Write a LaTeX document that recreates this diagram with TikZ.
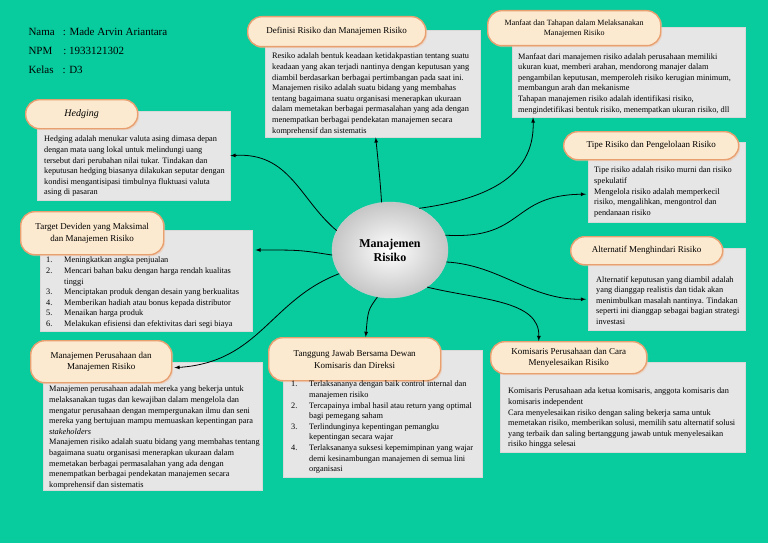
\documentclass[tikz,border=0pt]{standalone}
\usepackage{fontspec}
\setmainfont{Liberation Serif}
\usetikzlibrary{shapes.geometric,calc,shadows}
\definecolor{bg}{HTML}{08CC9E}
\definecolor{cream}{HTML}{FCEAD0}
\definecolor{tan}{HTML}{E8A070}
\definecolor{gbox}{HTML}{E6E6E6}
\hyphenpenalty=10000
\newcommand{\itm}[2]{\hangindent=18pt\hangafter=1\noindent\makebox[18pt][l]{#1}#2\par}
\tikzset{
 graybox/.style={draw=gray!30,fill=gbox,anchor=north west,inner sep=0pt},
 pill/.style={draw=tan,line width=1.4pt,fill=cream,rounded corners=14pt,anchor=north west,inner sep=0pt,align=center,font=\fontsize{9}{11.5}\selectfont,drop shadow={shadow xshift=1.5pt,shadow yshift=-1.5pt,fill=tan!60}},
 body/.style={anchor=north west,inner sep=0pt,align=flush left,font=\fontsize{8.3}{10.6}\selectfont},
 arr/.style={-latex,thick,black},
 info/.style={anchor=west,font=\fontsize{11}{13}\selectfont}
}
\begin{document}
\begin{tikzpicture}[x=1pt,y=-1pt]
\fill[bg] (0,0) rectangle (768,543);
\useasboundingbox (0,0) rectangle (768,543);
% info
\node[info] (n1) at (25,32) {Nama\hspace{8pt}: Made Arvin Ariantara};
\node[info] (n2) at (25,51) {NPM\hspace{11pt}: 1933121302};
\node[info] (n3) at (25,70) {Kelas\hspace{9pt}: D3};
% Hedging
\node[graybox,minimum width=193,minimum height=89] (hb) at (37,111) {};
\node[pill,minimum width=112,minimum height=29,font=\fontsize{10}{12}\selectfont\itshape] (hp) at (25,99) {Hedging};
\node[body,text width=184] (ht) at (44,136) {Hedging adalah menukar valuta asing dimasa depan dengan mata uang lokal untuk melindungi uang tersebut dari perubahan nilai tukar. Tindakan dan keputusan hedging biasanya dilakukan seputar dengan kondisi mengantisipasi timbulnya fluktuasi valuta asing di pasaran};
% Definisi
\node[graybox,minimum width=215,minimum height=107] (db) at (265,30) {};
\node[pill,minimum width=178,minimum height=30] (dp) at (247,16) {Definisi Risiko dan Manajemen Risiko};
\node[body,text width=206] (dt) at (272,53) {Resiko adalah bentuk keadaan ketidakpastian tentang suatu keadaan yang akan terjadi nantinya dengan keputusan yang diambil berdasarkan berbagai pertimbangan pada saat ini. Manajemen risiko adalah suatu bidang yang membahas tentang bagaimana suatu organisasi menerapkan ukuraan dalam memetakan berbagai permasalahan yang ada dengan menempatkan berbagai pendekatan manajemen secara komprehensif dan sistematis};
% Manfaat
\node[graybox,minimum width=233,minimum height=90] (mb) at (512,27) {};
\node[pill,minimum width=173,minimum height=35,font=\fontsize{8}{10}\selectfont] (mp) at (487,10) {Manfaat dan Tahapan dalam Melaksanakan\\Manajemen Risiko};
\node[body,text width=226] (mt) at (518,53) {Manfaat dari manajemen risiko adalah perusahaan memiliki\\ukuran kuat, memberi arahan, mendorong manajer dalam\\pengambilan keputusan, memperoleh risiko kerugian minimum,\\membangun arah dan mekanisme\\Tahapan manajemen risiko adalah identifikasi risiko,\\mengindetifikasi bentuk risiko, menempatkan ukuran risiko, dll};
% Tipe
\node[graybox,minimum width=157,minimum height=80] (tb) at (588,142) {};
\node[pill,minimum width=175,minimum height=28] (tp) at (563,131) {Tipe Risiko dan Pengelolaan Risiko};
\node[body,text width=148] (tt) at (594,167) {Tipe risiko adalah risiko murni dan risiko spekulatif\\Mengelola risiko adalah memperkecil risiko, mengalihkan, mengontrol dan pendanaan risiko};
% Alternatif
\node[graybox,minimum width=157,minimum height=82] (ab) at (588,248) {};
\node[pill,minimum width=152,minimum height=28] (ap) at (570,236) {Alternatif Menghindari Risiko};
\node[body,text width=148] (at) at (596,276) {Alternatif keputusan yang diambil adalah yang dianggap realistis dan tidak akan menimbulkan masalah nantinya. Tindakan seperti ini dianggap sebagai bagian strategi investasi};
% Target
\node[graybox,minimum width=212,minimum height=101] (gb) at (40,230) {};
\node[pill,minimum width=143,minimum height=43] (gp) at (20,211) {Target Deviden yang Maksimal\\dan Manajemen Risiko};
\node[body,text width=205] (gt) at (46,257) {\itm{1.}{Meningkatkan angka penjualan}\itm{2.}{Mencari bahan baku dengan harga rendah kualitas\newline tinggi}\itm{3.}{Menciptakan produk dengan desain yang berkualitas}\itm{4.}{Memberikan hadiah atau bonus kepada distributor}\itm{5.}{Menaikan harga produk}\itm{6.}{Melakukan efisiensi dan efektivitas dari segi biaya}};
% Manajemen Perusahaan
\node[graybox,minimum width=219,minimum height=128] (pb) at (43,362) {};
\node[pill,minimum width=141,minimum height=42] (pp) at (30,340) {Manajemen Perusahaan dan\\Manajemen Risiko};
\node[body,text width=212] (pt) at (49,386) {Manajemen perusahaan adalah mereka yang bekerja untuk melaksanakan tugas dan kewajiban dalam mengelola dan mengatur perusahaan dengan mempergunakan ilmu dan seni mereka yang bertujuan mampu memuaskan kepentingan para \textit{stakeholders}\\Manajemen risiko adalah suatu bidang yang membahas tentang bagaimana suatu organisasi menerapkan ukuraan dalam memetakan berbagai permasalahan yang ada dengan menempatkan berbagai pendekatan manajemen secara komprehensif dan sistematis};
% Tanggung jawab
\node[graybox,minimum width=199,minimum height=127] (jb) at (283,350) {};
\node[pill,minimum width=172,minimum height=43] (jp) at (268,337) {Tanggung Jawab Bersama Dewan\\Komisaris dan Direksi};
\node[body,text width=190] (jt) at (291,381) {\itm{1.}{Terlaksananya dengan baik control internal dan manajemen risiko}\itm{2.}{Tercapainya imbal hasil atau return yang optimal bagi pemegang saham}\itm{3.}{Terlindunginya kepentingan pemangku kepentingan secara wajar}\itm{4.}{Terlaksananya suksesi kepemimpinan yang wajar demi kesinambungan manajemen di semua lini organisasi}};
% Komisaris
\node[graybox,minimum width=245,minimum height=90] (kb) at (500,362) {};
\node[pill,minimum width=156,minimum height=32] (kp) at (490,341) {Komisaris Perusahaan dan Cara\\Menyelesaikan Risiko};
\node[body,text width=235] (kt) at (508,388) {Komisaris Perusahaan ada ketua komisaris, anggota komisaris dan komisaris independent\\Cara menyelesaikan risiko dengan saling bekerja sama untuk memetakan risiko, memberikan solusi, memilih satu alternatif solusi yang terbaik dan saling bertanggung jawab untuk menyelesaikan risiko hingga selesai};
% center
\node[ellipse,minimum width=116,minimum height=96,draw=gray!40,shading=radial,inner color=white,outer color=gray!45,align=center,font=\bfseries\fontsize{12}{14}\selectfont] (c) at (390,250) {Manajemen\\Risiko};
% arrows
\draw[arr] (c.160) .. controls (300,200) and (290,152) .. (hb.east);
\draw[arr] (c.100) .. controls (380,180) .. ($(db.south)+(3,0)$);
\draw[arr] (c.55) .. controls (480,200) and (535,180) .. ($(mb.south west)+(21,0)$);
\draw[arr] (c.15) .. controls (525,240) and (510,195) .. ($(tb.west)+(-2,12)$);
\draw[arr] (c.-12) .. controls (500,265) and (530,300) .. ($(ab.west)+(-2,10)$);
\draw[arr] (c.185) .. controls (300,250) .. ($(gb.north east)+(3,20)$);
\draw[arr] (c.205) .. controls (270,300) and (260,362) .. ($(pp.east)+(2,6)$);
\draw[arr] (c.255) .. controls (368,310) .. ($(jp.north)+(11,0)$);
\draw[arr] (c.-45) .. controls (480,300) and (540,300) .. ($(kp.north)+(-30,0)$);
\end{tikzpicture}
\end{document}
